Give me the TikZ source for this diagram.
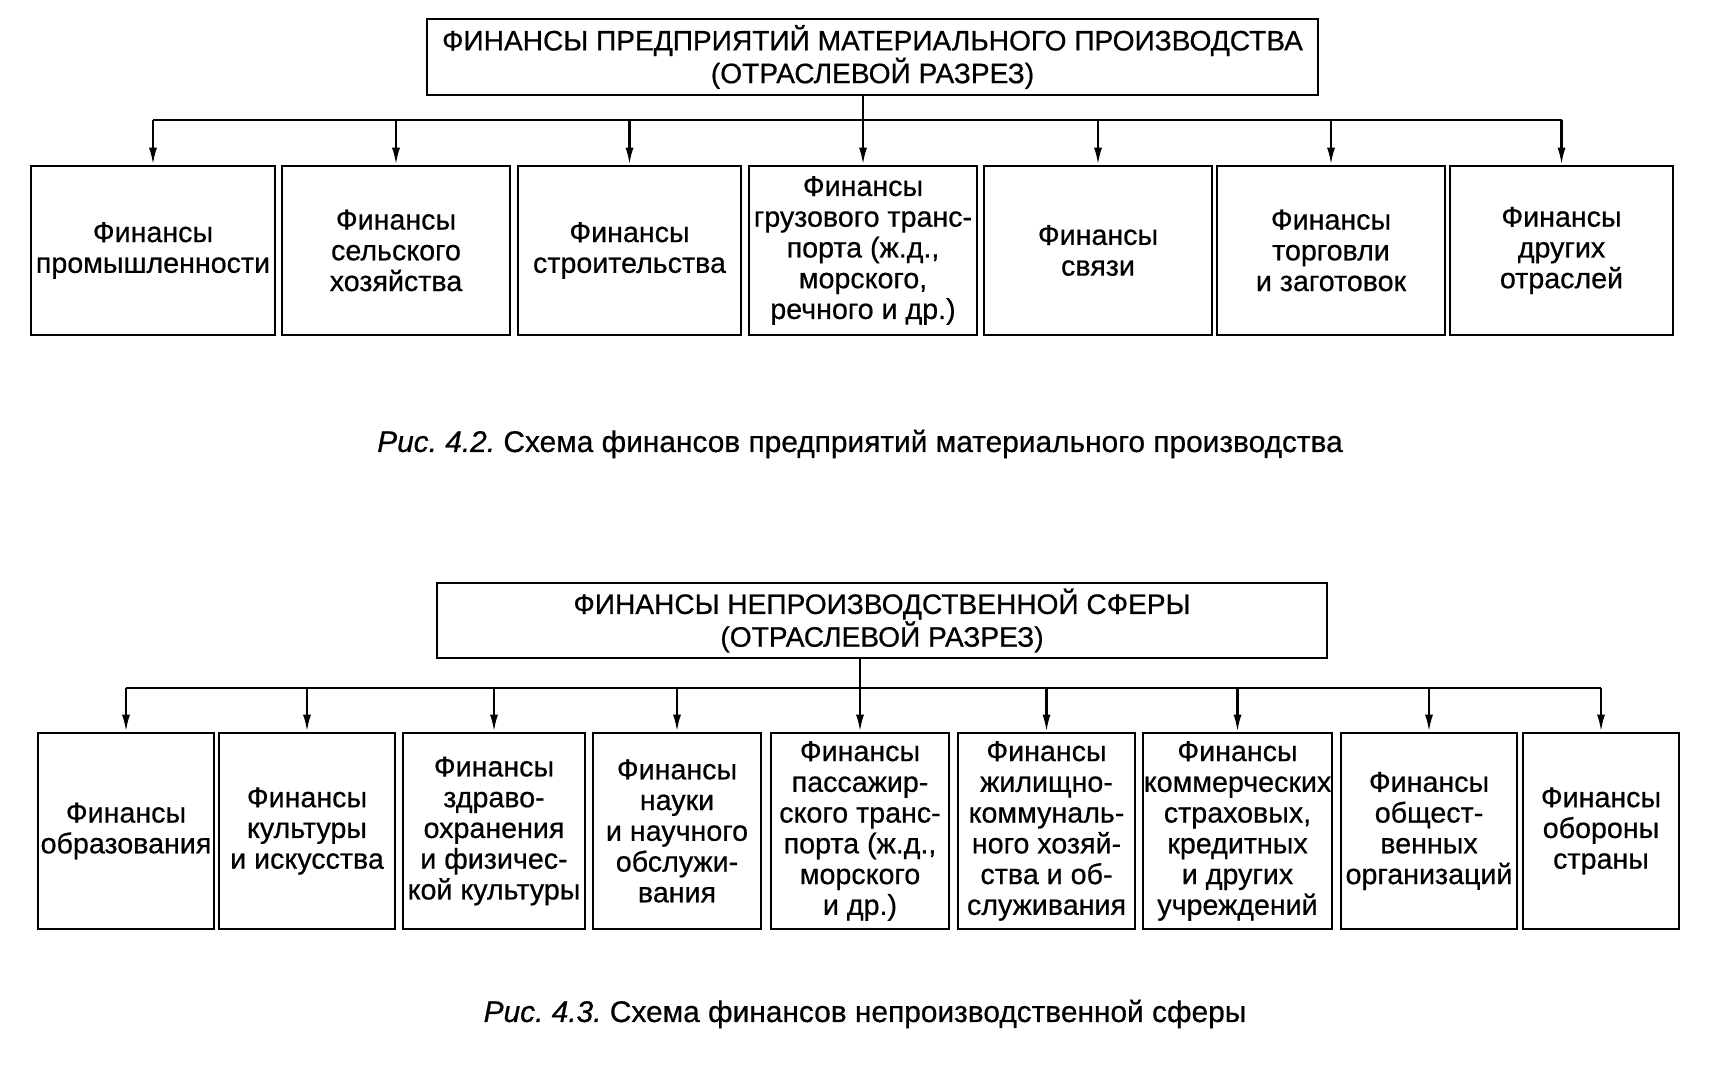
\documentclass[tikz,border=0pt]{standalone}
\usepackage{fontspec}
\setmainfont{Liberation Sans}[FakeBold=0.6]
\usetikzlibrary{arrows.meta}
\frenchspacing

\begin{document}
\begin{tikzpicture}[x=0.02cm, y=-0.02cm]
    \tikzstyle{rect}  = [shape=rectangle, draw, line width=1.5pt, align=center, inner sep=0pt,
                         font=\fontsize{16.3}{17.5}\selectfont]
    \tikzstyle{head}  = [rect, font=\fontsize{16}{15.5}\selectfont]
    \tikzstyle{upper} = [rect, minimum height=3.38cm]
    \tikzstyle{lower} = [rect, minimum height=3.92cm]
    \tikzstyle{link}  = [line width=1.3pt]
    \tikzstyle{feed}  = [link, -{Latex[length=3.4mm, width=1.6mm]}]
    \tikzstyle{capt}  = [font=\fontsize{17}{19}\selectfont]

    \useasboundingbox (0,0) rectangle (1719,1077);

    \node[head, minimum width=17.82cm, minimum height=1.52cm] (mat) at (872.5,57)
        {ФИНАНСЫ ПРЕДПРИЯТИЙ МАТЕРИАЛЬНОГО ПРОИЗВОДСТВА\\(ОТРАСЛЕВОЙ РАЗРЕЗ)};

        \node[upper, minimum width=4.88cm] (ind) at ( 153.0,250.5) {Финансы\\промышленности};
        \node[upper, minimum width=4.56cm] (agr) at ( 396.0,250.5) {Финансы\\сельского\\хозяйства};
        \node[upper, minimum width=4.46cm] (bld) at ( 629.5,250.5) {Финансы\\строительства};
        \node[upper, minimum width=4.56cm] (frt) at ( 863.0,250.5)
            {Финансы\\грузового транс-\\порта (ж.д.,\\морского,\\речного и др.)};
        \node[upper, minimum width=4.56cm] (com) at (1098.0,250.5) {Финансы\\связи};
        \node[upper, minimum width=4.56cm] (trd) at (1331.0,250.5) {Финансы\\торговли\\и заготовок};
        \node[upper, minimum width=4.46cm] (oth) at (1561.5,250.5) {Финансы\\других\\отраслей};

        \coordinate (busA) at (0,120);
        \draw[link]  (frt.north |- mat.south) -- (frt.north |- busA);
        \draw[link]  (ind.north |- busA) -- (oth.north |- busA);
        \draw[feed]  (ind.north |- busA) -- (ind.north);
        \draw[feed]  (agr.north |- busA) -- (agr.north);
        \draw[feed]  (bld.north |- busA) -- (bld.north);
        \draw[feed]  (frt.north |- busA) -- (frt.north);
        \draw[feed]  (com.north |- busA) -- (com.north);
        \draw[feed]  (trd.north |- busA) -- (trd.north);
        \draw[feed]  (oth.north |- busA) -- (oth.north);

    \node[capt] (capA) at (860,444)
        {\textit{Рис. 4.2.} Схема финансов предприятий материального производства};

    \node[head, minimum width=17.8cm, minimum height=1.5cm] (npr) at (882,620.5)
        {ФИНАНСЫ НЕПРОИЗВОДСТВЕННОЙ СФЕРЫ\\(ОТРАСЛЕВОЙ РАЗРЕЗ)};

        \node[lower, minimum width=3.52cm] (edu) at ( 126.0,831) {Финансы\\образования};
        \node[lower, minimum width=3.52cm] (cul) at ( 307.0,831) {Финансы\\культуры\\и искусства};
        \node[lower, minimum width=3.64cm] (hlt) at ( 494.0,831)
            {Финансы\\здраво-\\охранения\\и физичес-\\кой культуры};
        \node[lower, minimum width=3.36cm] (sci) at ( 677.0,831)
            {Финансы\\науки\\и научного\\обслужи-\\вания};
        \node[lower, minimum width=3.56cm] (pas) at ( 860.0,831)
            {Финансы\\пассажир-\\ского транс-\\порта (ж.д.,\\морского\\и др.)};
        \node[lower, minimum width=3.54cm] (hou) at (1046.5,831)
            {Финансы\\жилищно-\\коммуналь-\\ного хозяй-\\ства и об-\\служивания};
        \node[lower, minimum width=3.78cm] (ins) at (1237.5,831)
            {Финансы\\коммерческих\\страховых,\\кредитных\\и других\\учреждений};
        \node[lower, minimum width=3.52cm] (soc) at (1429.0,831)
            {Финансы\\общест-\\венных\\организаций};
        \node[lower, minimum width=3.12cm] (def) at (1601.0,831) {Финансы\\обороны\\страны};

        \coordinate (busB) at (0,688);
        \draw[link]  (pas.north |- npr.south) -- (pas.north |- busB);
        \draw[link]  (edu.north |- busB) -- (def.north |- busB);
        \draw[feed]  (edu.north |- busB) -- (edu.north);
        \draw[feed]  (cul.north |- busB) -- (cul.north);
        \draw[feed]  (hlt.north |- busB) -- (hlt.north);
        \draw[feed]  (sci.north |- busB) -- (sci.north);
        \draw[feed]  (pas.north |- busB) -- (pas.north);
        \draw[feed]  (hou.north |- busB) -- (hou.north);
        \draw[feed]  (ins.north |- busB) -- (ins.north);
        \draw[feed]  (soc.north |- busB) -- (soc.north);
        \draw[feed]  (def.north |- busB) -- (def.north);

    \node[capt] (capB) at (865,1014)
        {\textit{Рис. 4.3.} Схема финансов непроизводственной сферы};

\end{tikzpicture}
\end{document}
